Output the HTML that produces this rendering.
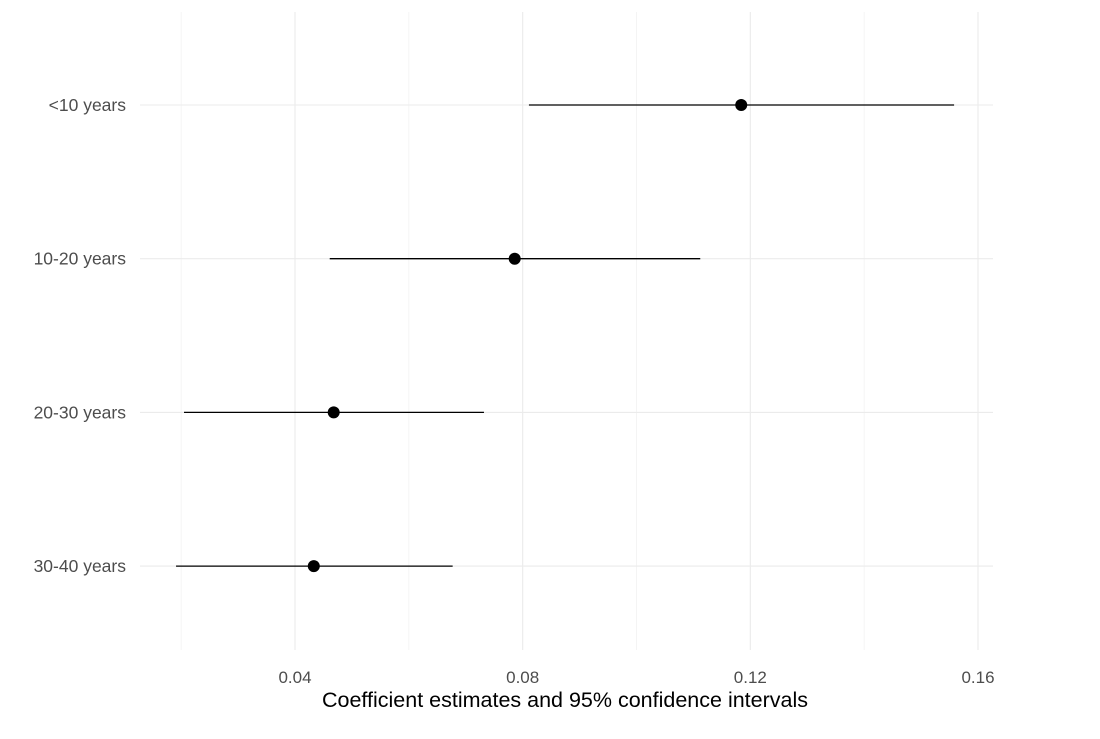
<!DOCTYPE html>
<html><head><meta charset="utf-8"><style>
html,body{margin:0;padding:0;background:#fff;}
svg{display:block;font-family:"Liberation Sans",sans-serif;}
</style></head><body>
<svg id="chart" width="1100" height="739"></svg>
<script>
const categories = ["<10 years","10-20 years","20-30 years","30-40 years"];
const estimates = [0.1184,0.0786,0.0468,0.0433];
const lowers = [0.0811,0.0461,0.0205,0.0191];
const uppers = [0.1558,0.1112,0.0732,0.0677];
const majorTicks = [0.04,0.08,0.12,0.16];
const minorTicks = [0.02,0.06,0.10,0.14];

const svgEl = document.getElementById('chart');
const NS = 'http://www.w3.org/2000/svg';
const padL = 140, padR = 993, padT = 12, padB = 650;
const xScale = v => 295 + (v - 0.04) * (978 - 295) / 0.12;
const yScale = i => 105 + i * 153.7;
function mk(tag, attrs){const e=document.createElementNS(NS,tag);for(const k in attrs)e.setAttribute(k,attrs[k]);svgEl.appendChild(e);return e;}

minorTicks.forEach(t=>{
  const l=mk('line',{x1:xScale(t),x2:xScale(t),y1:padT,y2:padB,stroke:'#f2f2f2','stroke-width':0.8});
  
  
});
majorTicks.forEach(t=>{
  const l=mk('line',{x1:xScale(t),x2:xScale(t),y1:padT,y2:padB,stroke:'#ebebeb','stroke-width':1.1});
  
  
  const tx=mk('text',{x:xScale(t),y:683,'text-anchor':'middle','font-size':17,fill:'#4d4d4d'});
  tx.textContent=String(t);
  
  
});
categories.forEach((c,i)=>{
  const g=mk('line',{x1:padL,x2:padR,y1:yScale(i),y2:yScale(i),stroke:'#ebebeb','stroke-width':1.1});
  
  
  const tx=mk('text',{x:126,y:yScale(i)+6,'text-anchor':'end','font-size':17.5,fill:'#4d4d4d'});
  tx.textContent=c;
  
  
});
categories.forEach((c,i)=>{
  const l=mk('line',{x1:xScale(lowers[i]),x2:xScale(uppers[i]),y1:yScale(i),y2:yScale(i),stroke:'#000','stroke-width':1.3});
  
  
  const p=mk('circle',{cx:xScale(estimates[i]),cy:yScale(i),r:6,fill:'#000'});
  
  
});
const xt=mk('text',{x:565,y:707,'text-anchor':'middle','font-size':21.5,fill:'#000'});
xt.textContent='Coefficient estimates and 95% confidence intervals';


</script>
</body></html>
